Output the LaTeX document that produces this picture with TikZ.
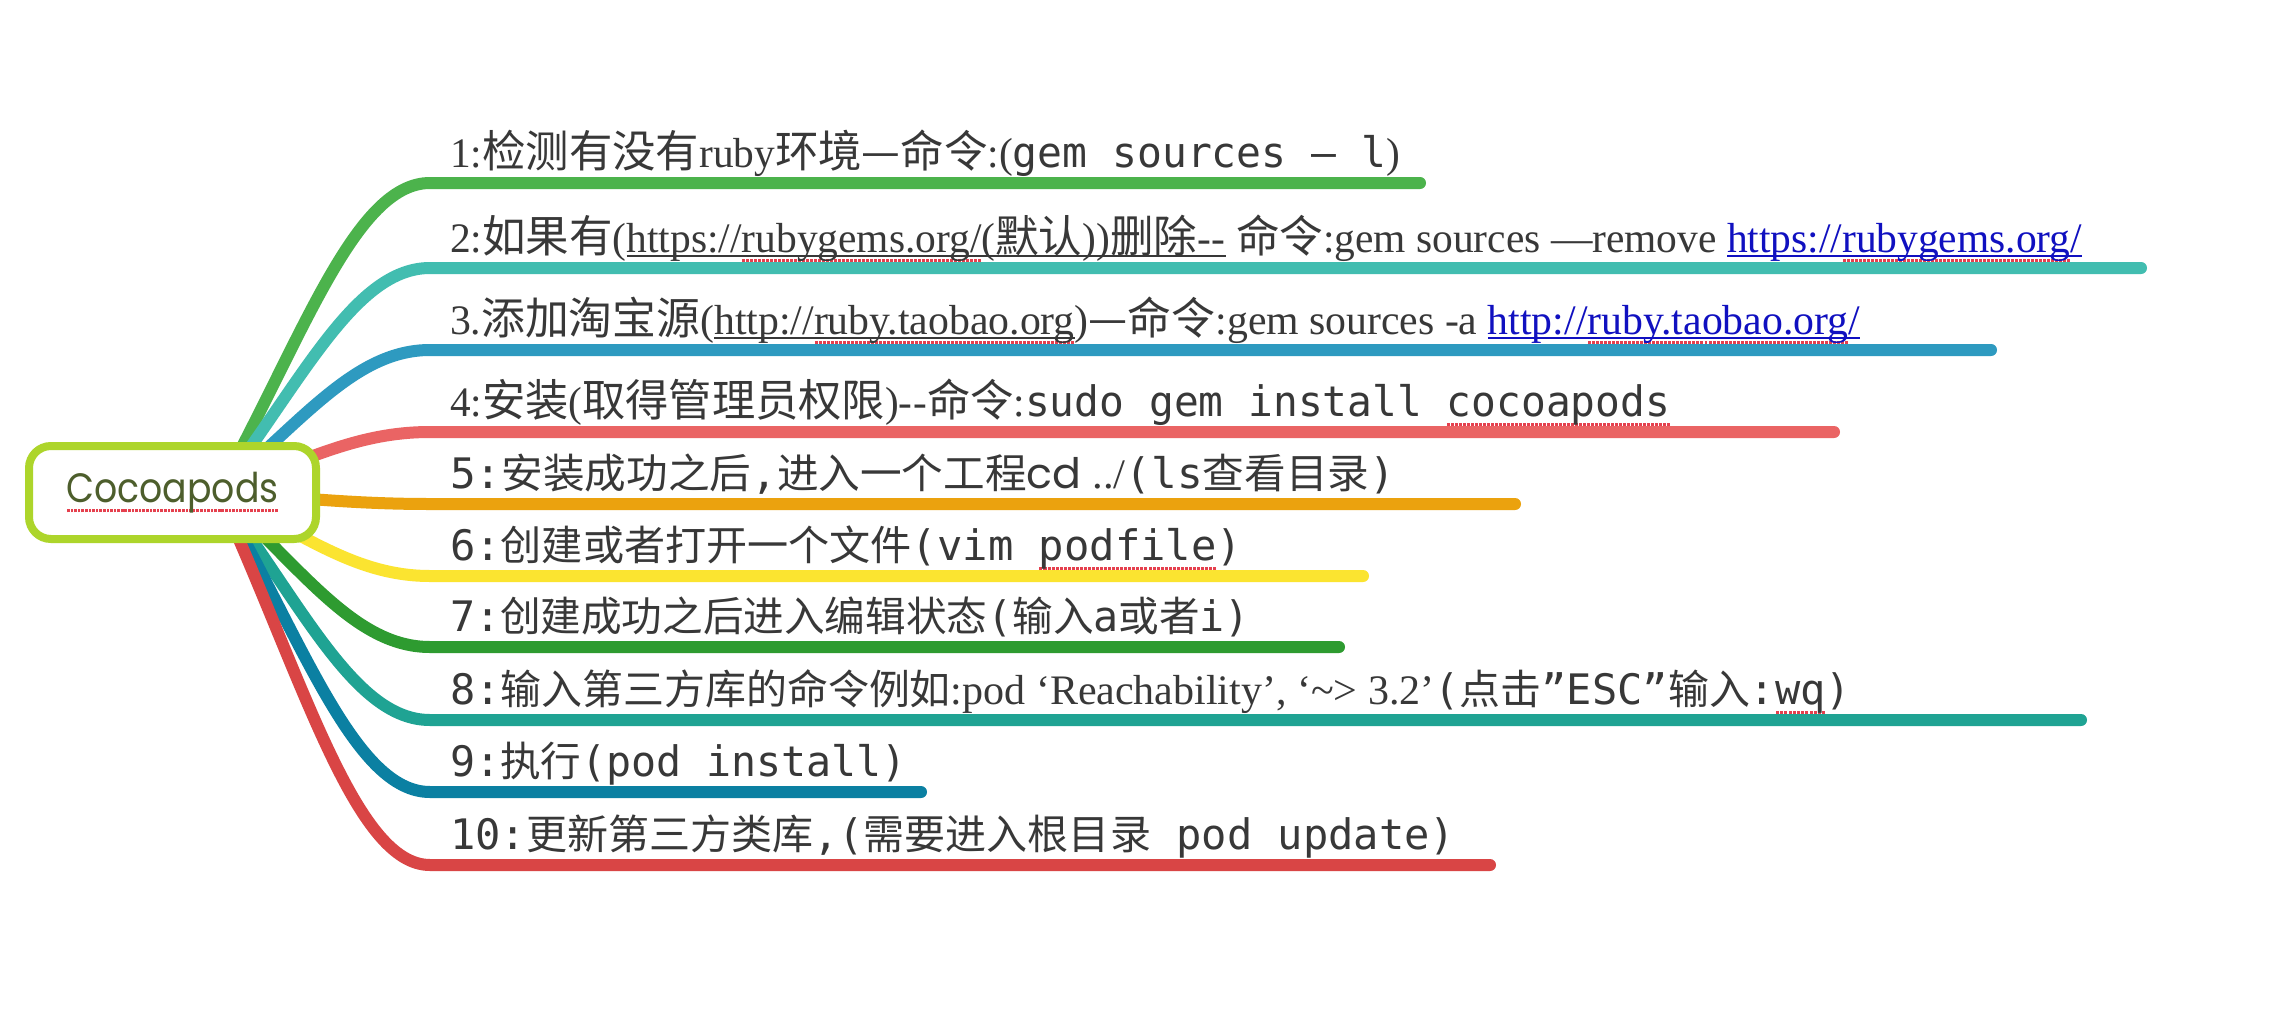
\documentclass[tikz,border=0pt]{standalone}
\usepackage{fontspec}
\usepackage{graphicx}
\setmainfont{Liberation Serif}
\newfontfamily\cjkS[Scale=1.05]{Noto Sans CJK SC}
\newfontfamily\cjkM[Scale=0.975]{Noto Sans CJK SC}
\newfontfamily\mono{DejaVu Sans Mono}
\newfontfamily\geo{Poppins}
\definecolor{cA}{HTML}{4CB34C}
\definecolor{cB}{HTML}{42BDB0}
\definecolor{cC}{HTML}{2E9AC0}
\definecolor{cD}{HTML}{EA6464}
\definecolor{cE}{HTML}{EBA20E}
\definecolor{cF}{HTML}{FBE430}
\definecolor{cG}{HTML}{2E9B30}
\definecolor{cH}{HTML}{1FA393}
\definecolor{cI}{HTML}{0B80A2}
\definecolor{cJ}{HTML}{D94545}
\definecolor{boxc}{HTML}{ADD52B}
\definecolor{txt}{HTML}{383838}
\definecolor{cocotxt}{HTML}{4D5E2C}
\definecolor{spellred}{HTML}{E5404E}
\definecolor{linkblue}{HTML}{1010C0}
\newcommand\zh[1]{{\cjkS #1}}
\newcommand\zm[1]{{\cjkM #1}}
\newcommand\mt[1]{{\mono #1}}
\newcommand\rmt[1]{{\rmfamily #1}}
\newcommand\myul[2]{\setbox0=\hbox{#2}\rlap{\color{#1}\rule[-5pt]{\wd0}{2pt}}\box0}
\newcommand\spl[1]{\setbox0=\hbox{#1}\rlap{\raisebox{-10pt}{\color{spellred}\hbox to \wd0{\xleaders\hbox to 4pt{\hss\rule{3pt}{3.4pt}\hss}\hfill}}}\box0}
\newcommand\lnk[1]{{\color{linkblue}\myul{linkblue}{#1}}}
\begin{document}
\begin{tikzpicture}[x=1pt,y=-1pt,
  br/.style={line width=12pt,line cap=round},
  lbl/.style={anchor=base west,inner sep=0pt,outer sep=0pt,text=txt,font=\fontsize{42pt}{50pt}\selectfont},
  lblm/.style={lbl,font=\mono\fontsize{42pt}{50pt}\selectfont},
  rootbox/.style={draw=boxc,line width=8pt,fill=white,rounded corners=22pt,minimum width=287pt,minimum height=93pt,inner sep=0pt,text=cocotxt,font=\geo\fontsize{41pt}{44pt}\selectfont}]
\fill[white] (0,0) rectangle (2290,1022);
\useasboundingbox (0,0) rectangle (2290,1022);
% anchor points
\coordinate (o) at (218,492);
\coordinate (h1) at (430,183);  \coordinate (e1) at (1420,183);
\coordinate (h2) at (430,268);  \coordinate (e2) at (2141,268);
\coordinate (h3) at (430,350);  \coordinate (e3) at (1991,350);
\coordinate (h4) at (430,432);  \coordinate (e4) at (1834,432);
\coordinate (h5) at (430,504);  \coordinate (e5) at (1515,504);
\coordinate (h6) at (430,576);  \coordinate (e6) at (1363,576);
\coordinate (h7) at (430,647);  \coordinate (e7) at (1339,647);
\coordinate (h8) at (430,720);  \coordinate (e8) at (2081,720);
\coordinate (h9) at (430,792);  \coordinate (e9) at (921,792);
\coordinate (h10) at (430,865); \coordinate (e10) at (1490,865);
% branches
\draw[br,cA] (o) .. controls (303,337.5) and (355,183) .. (h1) -- (e1);
\draw[br,cB] (o) .. controls (303,380) and (355,268) .. (h2) -- (e2);
\draw[br,cC] (o) .. controls (303,421) and (355,350) .. (h3) -- (e3);
\draw[br,cD] (o) .. controls (303,462) and (355,432) .. (h4) -- (e4);
\draw[br,cE] (o) .. controls (303,498) and (355,504) .. (h5) -- (e5);
\draw[br,cF] (o) .. controls (303,534) and (355,576) .. (h6) -- (e6);
\draw[br,cG] (o) .. controls (303,569.5) and (355,647) .. (h7) -- (e7);
\draw[br,cH] (o) .. controls (303,606) and (355,720) .. (h8) -- (e8);
\draw[br,cI] (o) .. controls (303,642) and (355,792) .. (h9) -- (e9);
\draw[br,cJ] (o) .. controls (303,678.5) and (355,865) .. (h10) -- (e10);
% root
\node[rootbox] (root) at (172.5,492.5) {\resizebox{212pt}{\height}{\spl{Cocoapods}}};
% labels
\node[lbl] (t1) at (450,167) {\resizebox{950pt}{\height}{1:\zh{检测有没有}ruby\zh{环境—命令}:(\mt{gem sources – l})}};
\node[lbl] (t2) at (450,252) {\resizebox{1632pt}{\height}{2:\zh{如果有}(\myul{txt}{https://\spl{rubygems.org/}(\zh{默认}))\zh{删除}-\kern1pt-}\ \zh{命令}:gem sources —remove \lnk{https://\spl{rubygems.org}/}}};
\node[lbl] (t3) at (450,334) {\resizebox{1410pt}{\height}{3.\zh{添加淘宝源}(\myul{txt}{http://\spl{ruby.taobao.org}})\zh{—命令}:gem sources -a \lnk{http://\spl{ruby.taobao.org}/}}};
\node[lbl] (t4) at (450,416) {\resizebox{1220pt}{\height}{4:\zh{安装}(\zh{取得管理员权限})-\kern1pt-\zh{命令}:\mt{sudo gem install \spl{cocoapods}}}};
\node[lblm] (t5) at (450,488) {\resizebox{945pt}{\height}{5:\zm{安装成功之后},\zm{进入一个工程}{\geo cd}\rmt{ ../}(ls\zm{查看目录})}};
\node[lblm] (t6) at (450,560) {\resizebox{792pt}{\height}{6:\zm{创建或者打开一个文件}(vim \spl{podfile})}};
\node[lblm] (t7) at (450,631) {\resizebox{800pt}{\height}{7:\zm{创建成功之后进入编辑状态}(\zm{输入}a\zm{或者}i)}};
\node[lblm] (t8) at (450,704) {\resizebox{1401pt}{\height}{8:\zm{输入第三方库的命令例如}\rmt{:pod ‘Reachability’, ‘\textasciitilde> 3.2’}(\zm{点击}”ESC”\zm{输入}:\spl{wq})}};
\node[lblm] (t9) at (450,776) {\resizebox{457pt}{\height}{9:\zm{执行}(pod install)}};
\node[lblm] (t10) at (450,849) {\resizebox{1005pt}{\height}{10:\zm{更新第三方类库},(\zm{需要进入根目录} pod update)}};
\end{tikzpicture}
\end{document}
